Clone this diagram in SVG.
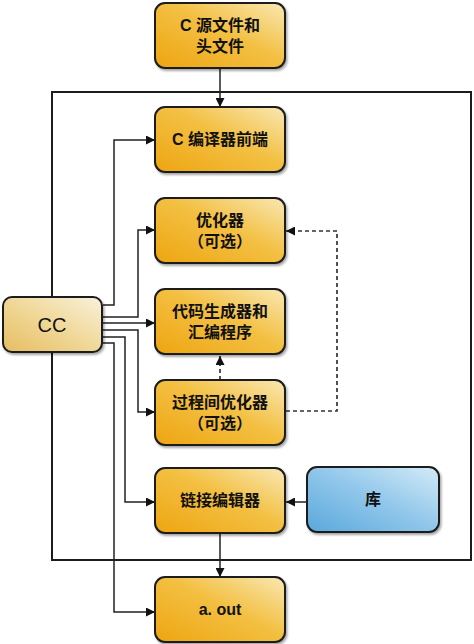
<svg xmlns="http://www.w3.org/2000/svg" width="474" height="644" viewBox="0 0 474 644">
<defs>
<linearGradient id="gO" x1="0" y1="1" x2="1" y2="0">
<stop offset="0" stop-color="#eea511"/>
<stop offset="0.55" stop-color="#f3c043"/>
<stop offset="1" stop-color="#f9e8b4"/>
</linearGradient>
<linearGradient id="gC" x1="0" y1="1" x2="1" y2="0">
<stop offset="0" stop-color="#e6bd62"/>
<stop offset="0.5" stop-color="#f0d898"/>
<stop offset="1" stop-color="#f9f1dc"/>
</linearGradient>
<linearGradient id="gB" x1="0" y1="1" x2="1" y2="0">
<stop offset="0" stop-color="#5aa8dc"/>
<stop offset="0.5" stop-color="#8fc6ea"/>
<stop offset="1" stop-color="#d4ebf7"/>
</linearGradient>
<marker id="ah" viewBox="0 0 10 10" refX="10" refY="5" markerWidth="9" markerHeight="9" markerUnits="userSpaceOnUse" orient="auto">
<path d="M0,0 L10,5 L0,10 z" fill="#111"/>
</marker>
<filter id="sh" x="-10%" y="-10%" width="125%" height="130%">
<feDropShadow dx="1.5" dy="2" stdDeviation="1" flood-color="#000" flood-opacity="0.35"/>
</filter>
</defs>
<style>
.n{stroke:#1c1c1c;stroke-width:2;filter:url(#sh)}
.o{fill:url(#gO)}
.c{fill:url(#gC)}
.b{fill:url(#gB)}
.t{font-family:"Liberation Sans","Noto Sans CJK SC",sans-serif;font-weight:bold;font-size:16px;fill:#111;text-anchor:middle}
.w{fill:none;stroke:#222;stroke-width:1.5}
.d{fill:none;stroke:#333;stroke-width:1.7;stroke-dasharray:4,3}
</style>
<rect x="52" y="92" width="419" height="468" fill="none" stroke="#1c1c1c" stroke-width="2"/>
<g id="connectors">
<path class="w" d="M220,69 V107" marker-end="url(#ah)"/>
<path class="w" d="M103,305 H114 V140 H155" marker-end="url(#ah)"/>
<path class="w" d="M103,317 H138 V230 H155" marker-end="url(#ah)"/>
<path class="w" d="M103,323 H155" marker-end="url(#ah)"/>
<path class="w" d="M103,330 H138 V412 H155" marker-end="url(#ah)"/>
<path class="w" d="M103,337 H125 V502 H155" marker-end="url(#ah)"/>
<path class="w" d="M103,343 H114 V612 H155" marker-end="url(#ah)"/>
<path class="w" d="M307,502 H286" marker-end="url(#ah)"/>
<path class="w" d="M220,533 V577" marker-end="url(#ah)"/>
<path class="d" d="M220,380 V356" marker-end="url(#ah)"/>
<path class="d" d="M286,411 H337 V231 H286" marker-end="url(#ah)"/>
</g>
<g id="src"><rect class="n o" x="155" y="3" width="130" height="65" rx="10"/><text class="t" x="220" y="31">C 源文件和</text><text class="t" x="220" y="52">头文件</text></g>
<g id="frontend"><rect class="n o" x="155" y="107" width="130" height="65" rx="10"/><text class="t" x="220" y="145">C 编译器前端</text></g>
<g id="optimizer"><rect class="n o" x="155" y="198" width="130" height="65" rx="10"/><text class="t" x="220" y="226">优化器</text><text class="t" x="220" y="247">（可选）</text></g>
<g id="codegen"><rect class="n o" x="155" y="289" width="130" height="65" rx="10"/><text class="t" x="220" y="317">代码生成器和</text><text class="t" x="220" y="338">汇编程序</text></g>
<g id="ipo"><rect class="n o" x="155" y="380" width="130" height="65" rx="10"/><text class="t" x="220" y="408">过程间优化器</text><text class="t" x="220" y="429">（可选）</text></g>
<g id="linker"><rect class="n o" x="155" y="468" width="130" height="65" rx="10"/><text class="t" x="220" y="506">链接编辑器</text></g>
<g id="lib"><rect class="n b" x="307" y="467" width="132" height="65" rx="10"/><text class="t" x="373" y="505">库</text></g>
<g id="aout"><rect class="n o" x="155" y="577" width="130" height="65" rx="10"/><text class="t" x="220" y="615">a. out</text></g>
<g id="cc"><rect class="n c" x="3" y="297" width="99" height="55" rx="9"/><text class="t" x="52" y="332" style="font-size:20px;font-weight:normal">CC</text></g>
</svg>
